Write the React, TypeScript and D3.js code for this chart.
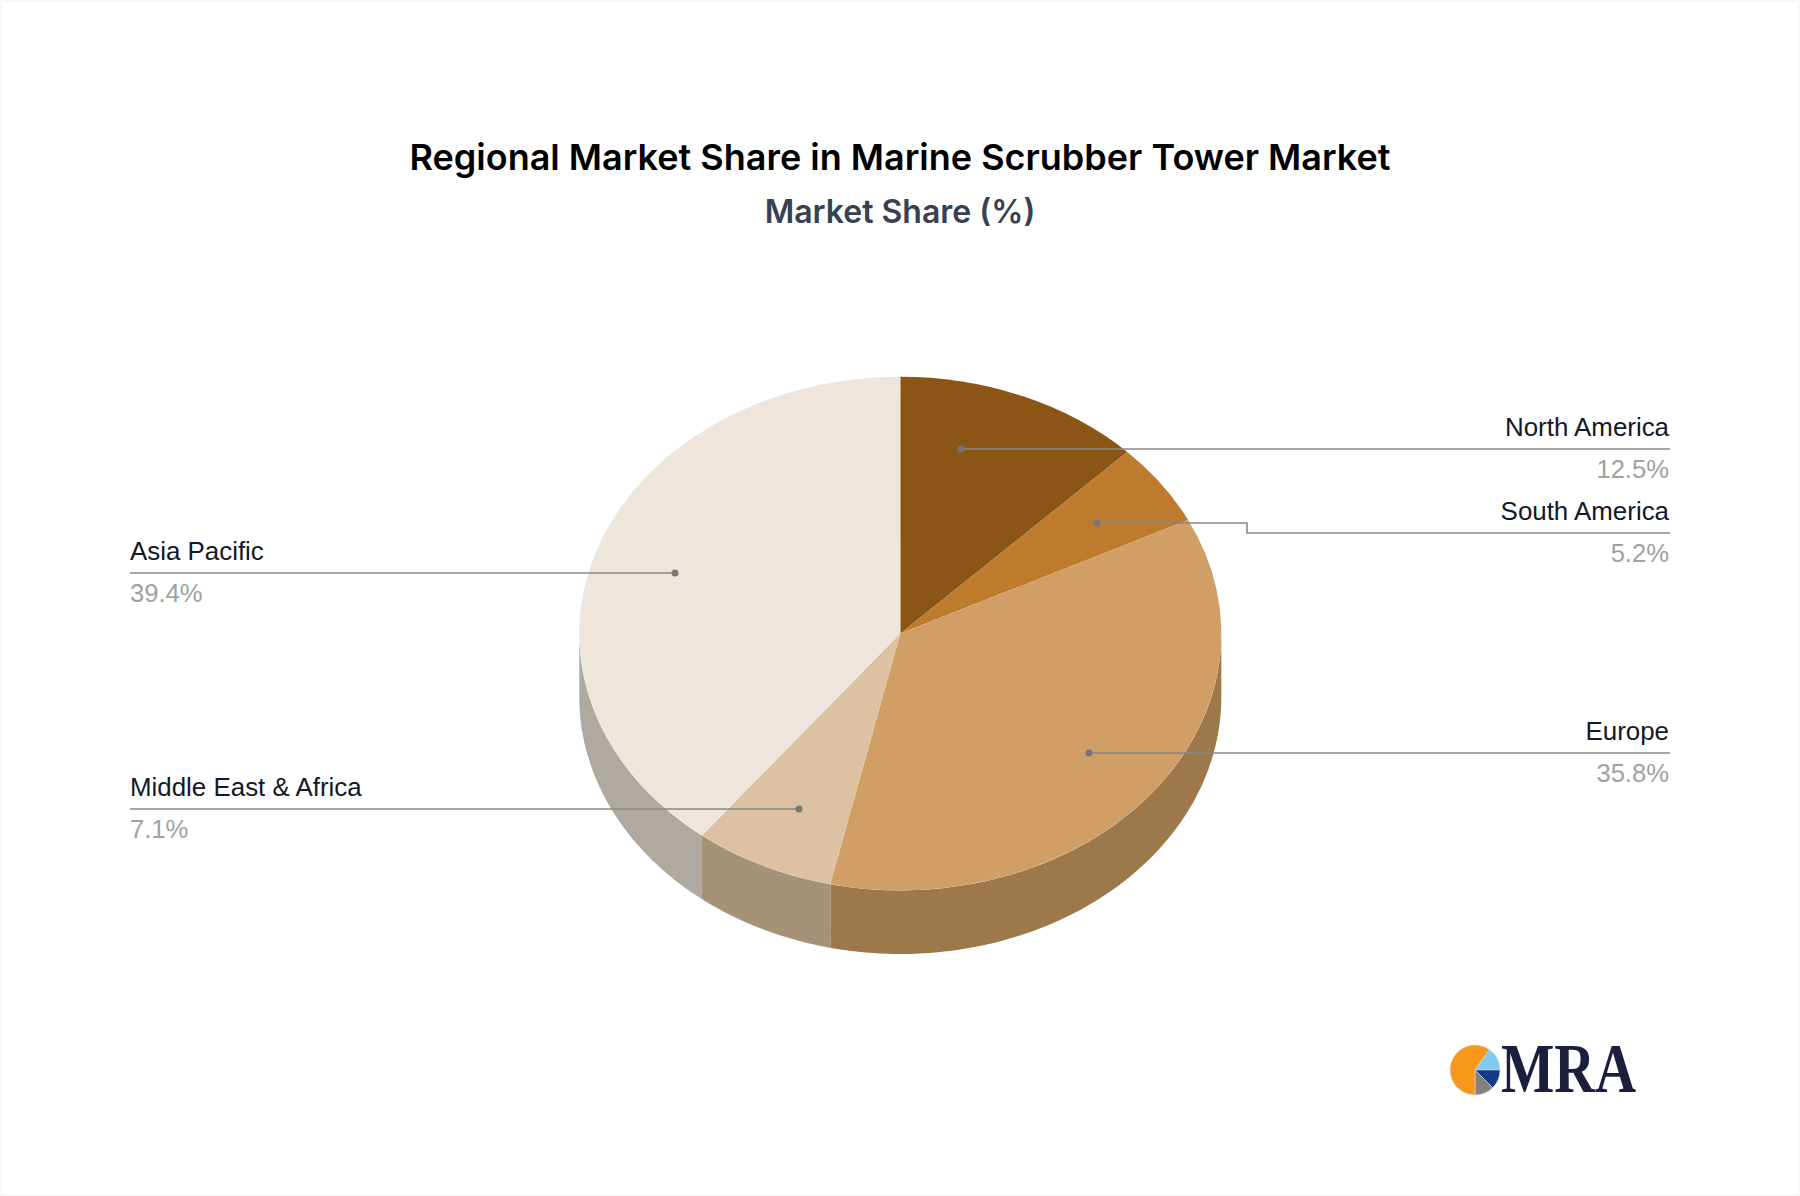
import React from "react";
import * as d3 from "d3";

const regions = ["North America", "South America", "Europe", "Middle East & Africa", "Asia Pacific"];
const shares = [12.5, 5.2, 35.8, 7.1, 39.4];
const topColors = ["#8B5516", "#BE7B2E", "#D19F65", "#DCC1A3", "#EEE5DD"];
const sideColors = ["#6B4210", "#8F5D22", "#9C784B", "#A59279", "#B0A9A2"];
const logoValues = [55, 45, 45, 215];
const logoColors = ["#7FCBF2", "#123A86", "#85807A", "#F7981D"];
const logoStart = 35;

const W = 1800, H = 1196;
const cx = 900.3, cy = 633.6, rx = 321, ry = 256.8, depth = 63.6;

const leaders: Array<{ dot: [number, number]; end: number; y: number; bendX?: number }> = [
  { dot: [961, 449], end: 1670, y: 449 },
  { dot: [1097, 523], end: 1670, y: 533, bendX: 1247 },
  { dot: [1089, 753], end: 1670, y: 753 },
  { dot: [799, 809], end: 130, y: 809 },
  { dot: [675, 573], end: 130, y: 573 },
];

const pieGen = d3.pie<number>().sort(null).value((d) => d);
const arcs = pieGen(shares);
const arcGen = d3.arc<any>().innerRadius(0).outerRadius(rx);

function sidePath(a0: number, a1: number): string | null {
  const s = Math.max(a0, Math.PI / 2);
  const e = Math.min(a1, (3 * Math.PI) / 2);
  if (e <= s) return null;
  const t = d3.scaleLinear().domain([0, 80]).range([s, e]);
  const pts = d3.range(81).map((i) => t(i));
  const top = pts.map((a) => [cx + rx * Math.sin(a), cy - ry * Math.cos(a)] as [number, number]);
  const bottom = [...top].reverse().map(([x, y]) => [x, y + depth] as [number, number]);
  return d3.line()([...top, ...bottom]) + "Z";
}

const logoArcs = d3.pie<number>().sort(null).value((d) => d)
  .startAngle((logoStart * Math.PI) / 180)
  .endAngle((logoStart * Math.PI) / 180 + 2 * Math.PI)(logoValues);
const logoArc = d3.arc<any>().innerRadius(0).outerRadius(25);

export default function App() {
  const sans = "'Liberation Sans', Arial, sans-serif";
  return (
    <svg width={W} height={H} viewBox={`0 0 ${W} ${H}`} style={{ position: "absolute", left: 0, top: 0, background: "#fff" }}>
      <rect x={1} y={1} width={W - 2} height={H - 2} fill="#fff" stroke="#f6f7f9" strokeWidth={2} />
      <text x={900} y={170} textAnchor="middle" fontFamily="Inter, sans-serif" fontWeight={600} fontSize={36} fill="#000">
        Regional Market Share in Marine Scrubber Tower Market
      </text>
      <text x={900} y={222.5} textAnchor="middle" fontFamily="Inter, sans-serif" fontWeight={600} fontSize={32} fill="#374151">
        Market Share (%)
      </text>

      {arcs.map((a, i) => {
        const p = sidePath(a.startAngle, a.endAngle);
        return p ? <path key={i} d={p} fill={sideColors[i]} /> : null;
      })}
      <g transform={`translate(${cx},${cy}) scale(1,${ry / rx})`}>
        {arcs.map((a, i) => (
          <path key={i} d={arcGen(a) as string} fill={topColors[i]} />
        ))}
      </g>

      {regions.map((name, i) => {
        const l = leaders[i];
        const right = l.end > l.dot[0];
        const pts: [number, number][] = l.bendX
          ? [l.dot, [l.bendX, l.dot[1]], [l.bendX, l.y], [l.end, l.y]]
          : [l.dot, [l.end, l.y]];
        return (
          <g key={name}>
            <path d={d3.line()(pts) as string} fill="none" stroke="#888888" strokeWidth={1.6} />
            <circle cx={l.dot[0]} cy={l.dot[1]} r={3.5} fill="#777" />
            <text x={right ? l.end - 1 : l.end} y={l.y - 13} textAnchor={right ? "end" : "start"} fontFamily={sans} fontSize={25.9} fill="#111827">
              {name}
            </text>
            <text x={right ? l.end - 1 : l.end} y={l.y + 29} textAnchor={right ? "end" : "start"} fontFamily={sans} fontSize={25.6} fill="#9ca3a0">
              {shares[i].toFixed(1)}%
            </text>
          </g>
        );
      })}

      <g transform="translate(1475,1070)">
        {logoArcs.map((a, i) => (
          <path key={i} d={logoArc(a) as string} fill={logoColors[i]} stroke="#d8d8d8" strokeWidth={0.6} />
        ))}
      </g>
      <text x={1501} y={1092} fontFamily="'Liberation Serif', serif" fontWeight={700} fontSize={70} fill="#1a1f3d" textLength={135} lengthAdjust="spacingAndGlyphs">
        MRA
      </text>
    </svg>
  );
}
